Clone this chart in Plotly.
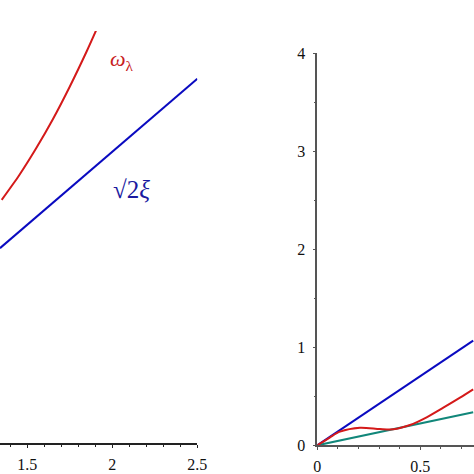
import plotly.graph_objects as go

# left panel: dispersion curve and reference line
left_xi_line = [1.339, 2.5]
left_sqrt2_line = [1.893, 3.537]
left_xi_omega = [1.349, 1.45, 1.55, 1.65, 1.75, 1.85, 1.908]
left_omega = [2.362, 2.596, 2.857, 3.144, 3.462, 3.806, 4.019]

# right panel: small-xi behaviour
right_xi_line = [0.0, 0.757]
right_sqrt2_line = [0.0, 1.067]
right_teal_line = [0.0, 0.337]
right_xi_omega = [0.0, 0.062, 0.11, 0.207, 0.304, 0.369, 0.45, 0.531, 0.612, 0.693, 0.757]
right_omega = [0.0, 0.082, 0.139, 0.18, 0.166, 0.163, 0.207, 0.286, 0.384, 0.486, 0.571]

RED = "#d41a1a"
BLUE = "#0a0ac0"
TEAL = "#11877a"
SERIF = "Liberation Serif"
W = H = 474

fig = go.Figure()

fig.add_trace(go.Scatter(x=left_xi_line, y=left_sqrt2_line, mode="lines",
                         line=dict(color=BLUE, width=2), xaxis="x", yaxis="y"))
fig.add_trace(go.Scatter(x=left_xi_omega, y=left_omega, mode="lines",
                         line=dict(color=RED, width=2, shape="spline", smoothing=0.6),
                         xaxis="x", yaxis="y"))

fig.add_trace(go.Scatter(x=right_xi_line, y=right_sqrt2_line, mode="lines",
                         line=dict(color=BLUE, width=2), xaxis="x2", yaxis="y2"))
fig.add_trace(go.Scatter(x=right_xi_line, y=right_teal_line, mode="lines",
                         line=dict(color=TEAL, width=2), xaxis="x2", yaxis="y2"))
fig.add_trace(go.Scatter(x=right_xi_omega, y=right_omega, mode="lines",
                         line=dict(color=RED, width=2, shape="spline", smoothing=0.8),
                         xaxis="x2", yaxis="y2"))

axis_common = dict(showgrid=False, zeroline=False, showline=True, linewidth=1.5,
                   ticks="outside", ticklen=3, tickwidth=1, automargin=False,
                   tickfont=dict(family=SERIF, size=16, color="#111"))

fig.update_layout(
    width=W, height=H,
    margin=dict(l=0, r=0, t=0, b=0, pad=0, autoexpand=False),
    paper_bgcolor="white", plot_bgcolor="white",
    showlegend=False,
    xaxis=dict(domain=[0, 0.4163], range=[1.339, 2.5], tickvals=[1.5, 2, 2.5],
               ticktext=["1.5", "2", "2.5"], linecolor="#222", tickcolor="#222",
               ticklabelstandoff=3,
               minor=dict(dtick=0.1, tick0=0, ticks="outside", ticklen=2, tickcolor="#222"),
               anchor="y", **axis_common),
    yaxis=dict(domain=[0.0648, 0.9346], range=[0, 4], visible=False, anchor="x"),
    xaxis2=dict(domain=[0.6694, 1.0], range=[0, 0.761], tickvals=[0, 0.5],
                ticktext=["0", "0.5"], linecolor="#555", tickcolor="#555",
                ticklabelstandoff=3,
                minor=dict(dtick=0.1, tick0=0, ticks="outside", ticklen=2, tickcolor="#555"),
                anchor="y2", **axis_common),
    yaxis2=dict(domain=[0.0605, 0.888], range=[0, 4], tickvals=[0, 1, 2, 3, 4],
                ticktext=["0", "1", "2", "3", "4"], linecolor="#555", tickcolor="#555",
                ticklabelstandoff=4,
                minor=dict(dtick=0.5, ticks="outside", ticklen=2, tickcolor="#555"),
                anchor="x2", **axis_common),
)

# label positions in pixels from the top-left corner
fig.add_annotation(x=122 / W, y=1 - 60 / H, xref="paper", yref="paper", showarrow=False,
                   xanchor="center", yanchor="middle",
                   text="<i>ω</i><sub>λ</sub>", font=dict(family=SERIF, size=22, color="#c82020"))
fig.add_annotation(x=131 / W, y=1 - 189 / H, xref="paper", yref="paper", showarrow=False,
                   xanchor="center", yanchor="middle",
                   text="√2<i>ξ</i>", font=dict(family=SERIF, size=25, color="#1a1aa0"))

# the page's default body margin shifts the plot by 8px, drop it
fig.write_html("out.html", config={"displayModeBar": False},
               post_script="document.body.style.margin='0';")
